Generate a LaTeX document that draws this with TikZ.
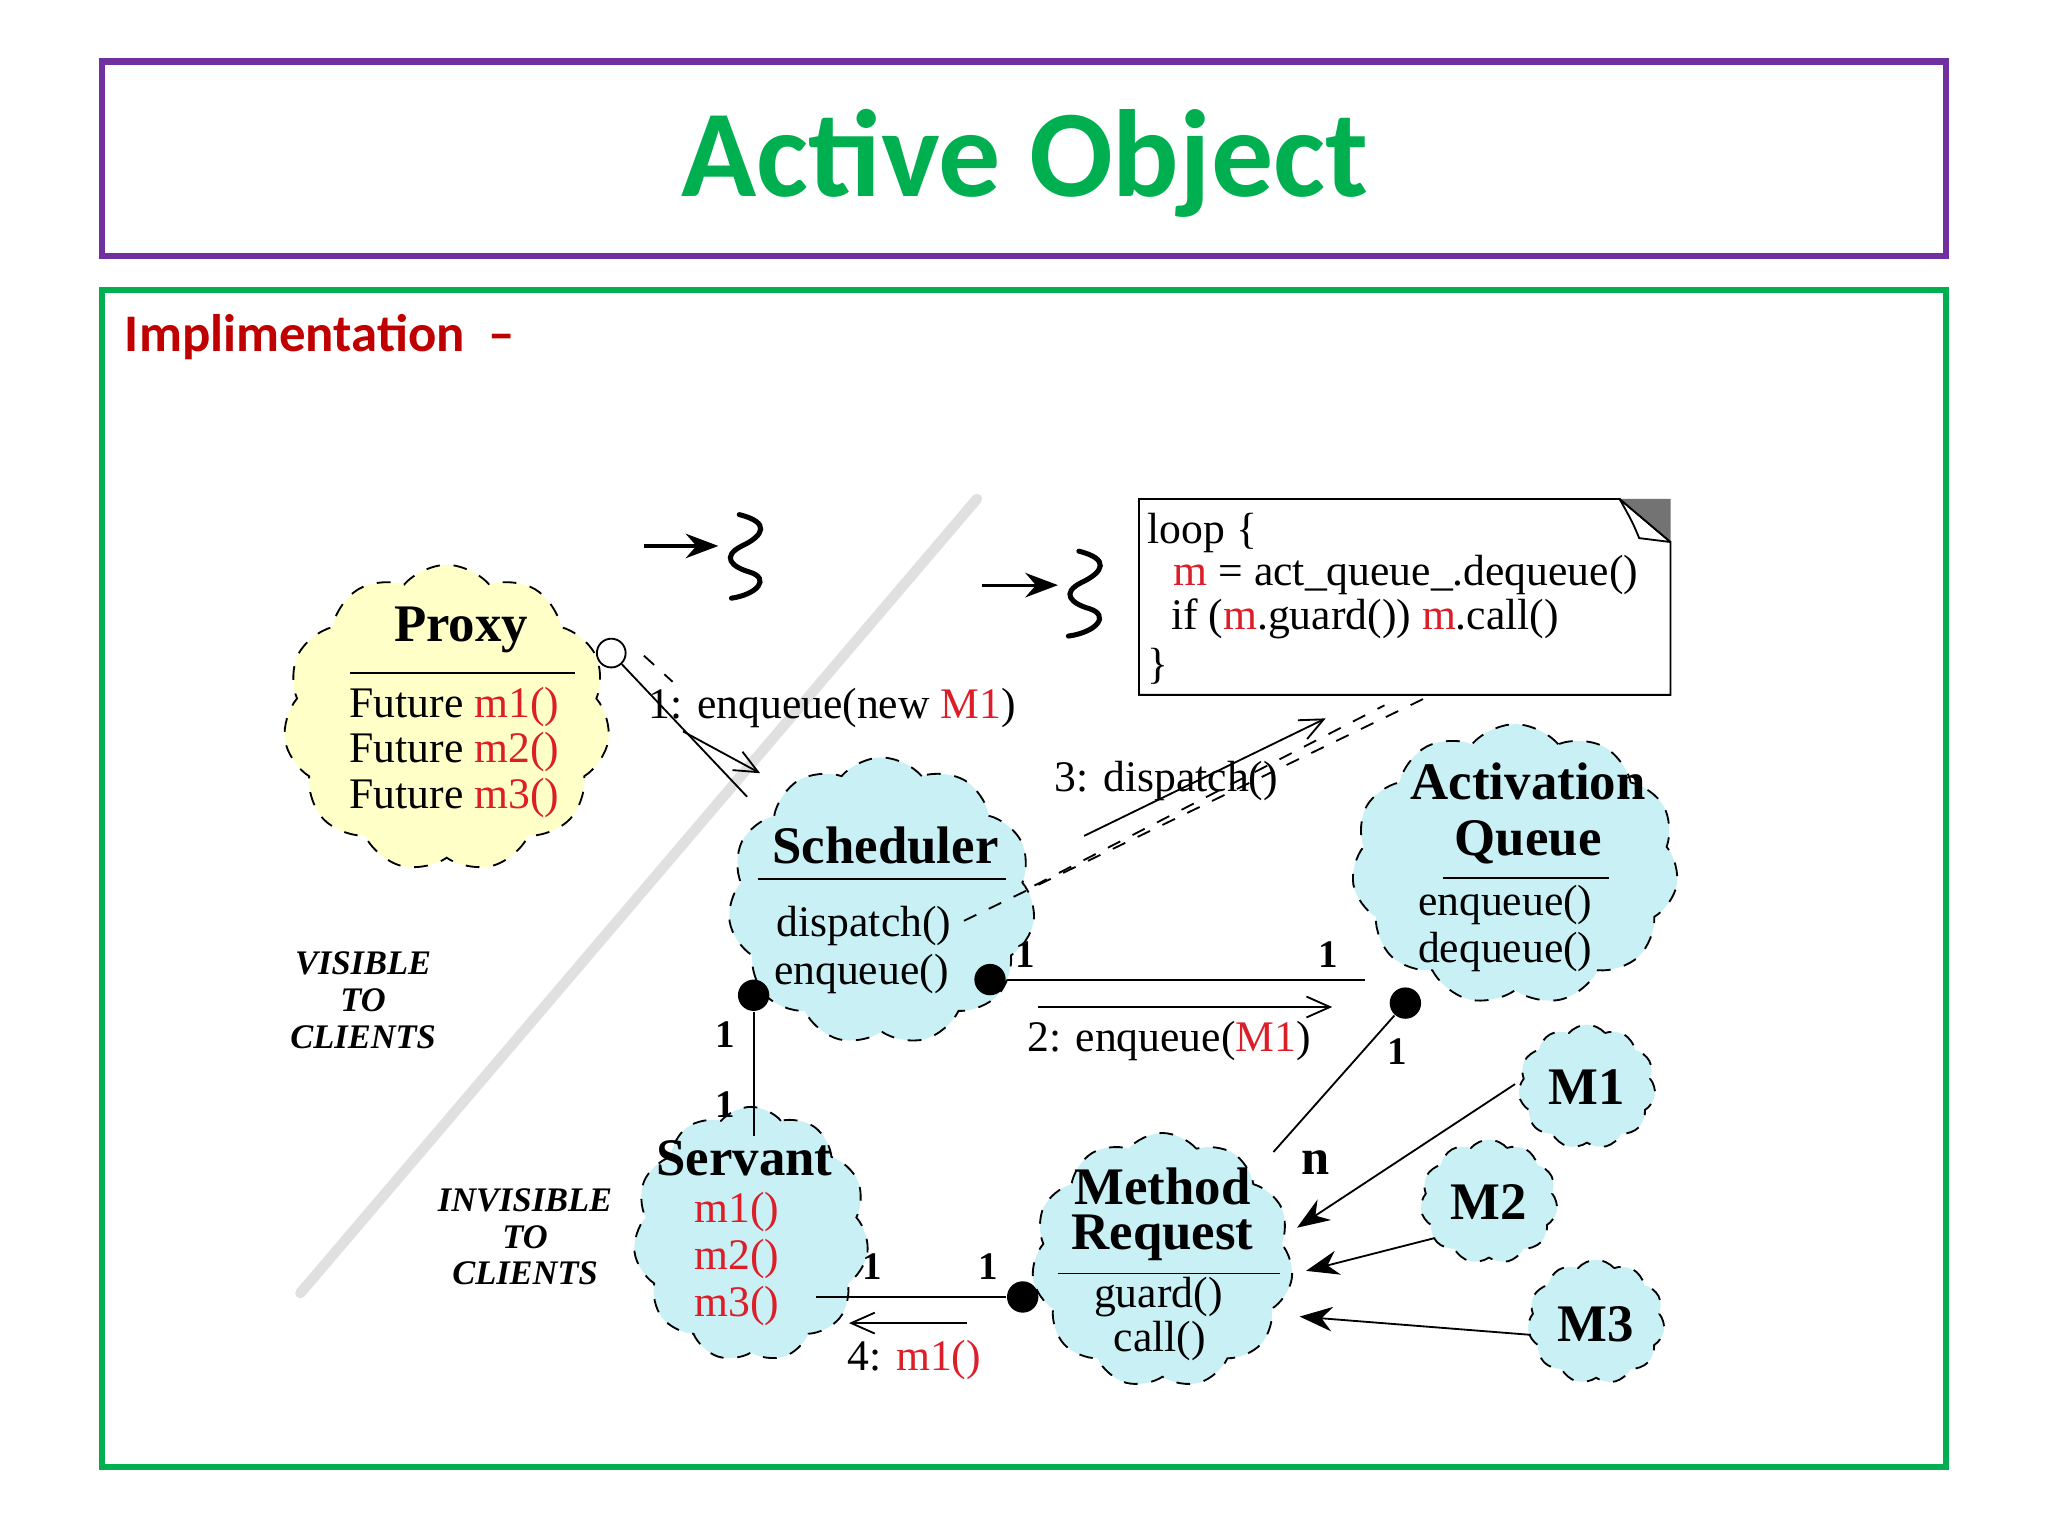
\documentclass[tikz,border=0pt]{standalone}
\usepackage{fontspec}
\setmainfont{Liberation Serif}
\newfontfamily\carl{Carlito}
\usetikzlibrary{shapes.symbols,arrows.meta}
\definecolor{ttl}{RGB}{0,176,80}
\definecolor{purp}{RGB}{112,48,160}
\definecolor{dred}{RGB}{192,0,0}
\definecolor{cyanf}{RGB}{200,240,245}
\definecolor{yelf}{RGB}{255,255,200}
\definecolor{rd}{RGB}{220,30,40}
\tikzset{
 cl/.style={cloud, cloud puffs=11, cloud puff arc=100, cloud ignores aspect, draw, dashed, fill=cyanf, inner sep=0pt},
 tx/.style={font=\fontsize{9.5pt}{11pt}\selectfont, inner sep=0pt, anchor=west},
 hd/.style={font=\fontsize{11.5pt}{13pt}\selectfont\bfseries, inner sep=0pt},
 lb/.style={font=\fontsize{8.5pt}{10pt}\selectfont\bfseries, inner sep=0pt},
 vis/.style={font=\fontsize{7.5pt}{9pt}\selectfont\bfseries\itshape, inner sep=0pt, align=center},
 dot/.style={circle, fill=black, minimum size=0.24cm, inner sep=0pt},
 arr/.style={-{Stealth[length=0.25cm]}},
 oarr/.style={-{Straight Barb[length=0.18cm,width=0.16cm]}},
}
\begin{document}
\begin{tikzpicture}[x=0.01cm,y=-0.01cm]
\useasboundingbox (0,0) rectangle (1568,1176);
\draw[purp, line width=0.05cm] (78,47) rectangle (1490,196);
\node[font=\carl\bfseries\fontsize{27pt}{32pt}\selectfont, text=ttl] (title) at (785,125) {Active Object};
\draw[ttl, line width=0.05cm] (78,222) rectangle (1490,1123);
\node[font=\carl\bfseries\fontsize{11.5pt}{14pt}\selectfont, text=dred, anchor=west, inner sep=0pt] (impl) at (95,258) {Implimentation \ –};
% diagonal
\draw[black!12, line width=0.08cm, line cap=round] (748,382) -- (230,990);
% clouds
\node[cl, fill=yelf, minimum width=2.5cm, minimum height=2.35cm] (proxy) at (342,550) {};
\node[cl, minimum width=2.35cm, minimum height=2.2cm] (sched) at (675,690) {};
\node[cl, minimum width=2.5cm, minimum height=2.15cm] (aq) at (1160,662) {};
\node[cl, minimum width=1.8cm, minimum height=1.95cm] (serv) at (575,945) {};
\node[cl, minimum width=2.0cm, minimum height=1.95cm] (mr) at (890,965) {};
\node[cl, minimum width=1.05cm, minimum height=0.95cm] (m1c) at (1215,832) {};
\node[cl, minimum width=1.05cm, minimum height=0.95cm] (m2c) at (1140,920) {};
\node[cl, minimum width=1.05cm, minimum height=0.95cm] (m3c) at (1222,1012) {};
% proxy text
\node[hd] (ptit) at (353,482) {Proxy};
\draw (268,515) -- (440,515);
\node[tx] (f1) at (267,541) {Future \textcolor{rd}{m1()}};
\node[tx] (f2) at (267,576) {Future \textcolor{rd}{m2()}};
\node[tx] (f3) at (267,611) {Future \textcolor{rd}{m3()}};
% scheduler
\node[hd] (stit) at (678,647) {Scheduler};
\draw (580,673) -- (770,673);
\node[tx] (sd) at (594,709) {dispatch()};
\node[tx] (se) at (592,746) {enqueue()};
% AQ
\node[hd] (aq1) at (1170,598) {Activation};
\node[hd] (aq2) at (1170,645) {Queue};
\draw (1105,672) -- (1232,672);
\node[tx] (aqe) at (1085,693) {enqueue()};
\node[tx] (aqd) at (1085,729) {dequeue()};
% servant
\node[hd] (svt) at (570,887) {Servant};
\node[tx, text=rd] (s1) at (531,928) {m1()};
\node[tx, text=rd] (s2) at (531,964) {m2()};
\node[tx, text=rd] (s3) at (531,1000) {m3()};
% MR
\node[hd] (mr1) at (890,908) {Method};
\node[hd] (mr2) at (890,948) {Request};
\draw (810,975) -- (980,975);
\node[tx] (mg) at (837,993) {guard()};
\node[tx] (mc) at (852,1027) {call()};
\node[hd] (m1t) at (1215,832) {M1};
\node[hd] (m2t) at (1140,920) {M2};
\node[hd] (m3t) at (1222,1014) {M3};
% dots
\node[dot] (d1) at (577,762) {};
\node[dot] (d2) at (758,750) {};
\node[dot] (d3) at (1076,768) {};
\node[dot] (d4) at (783,993) {};
\coordinate (aqL) at (1045,750);
\draw (d2) -- (aqL);
\node[lb] at (785,731) {1}; \node[lb] at (1017,731) {1};
\coordinate (a2s) at (795,771); \coordinate (a2e) at (1020,771);
\draw[oarr] (a2s) -- (a2e);
\node[tx, anchor=center] (l2) at (895,797) {2: enqueue(\textcolor{rd}{M1})};
\coordinate (svtop) at (577,870);
\draw (d1) -- (svtop);
\node[lb] at (555,792) {1}; \node[lb] at (555,846) {1};
\coordinate (mrtop) at (975,882);
\draw (d3) -- (mrtop);
\node[lb] at (1070,805) {1}; \node[lb, font=\fontsize{11pt}{12pt}\selectfont\bfseries] at (1007,890) {n};
\coordinate (svr) at (625,993);
\draw (d4) -- (svr);
\node[lb] at (668,970) {1}; \node[lb] at (757,970) {1};
\coordinate (a4s) at (740,1013); \coordinate (a4e) at (650,1013);
\draw[oarr] (a4s) -- (a4e);
\node[tx, anchor=center] (l4) at (700,1041) {4: \textcolor{rd}{m1()}};
% M arrows
\coordinate (m1s) at (1160,830); \coordinate (m1e) at (993,940);
\coordinate (m2s) at (1098,948); \coordinate (m2e) at (1000,973);
\coordinate (m3s) at (1172,1022); \coordinate (m3e) at (995,1008);
\draw[arr] (m1s) -- (m1e);
\draw[arr] (m2s) -- (m2e);
\draw[arr] (m3s) -- (m3e);
% proxy to scheduler
\node[circle, draw, fill=white, minimum size=0.22cm, inner sep=0pt] (pc) at (468,500) {};
\coordinate (sctop) at (572,610);
\draw (pc) -- (sctop);
\coordinate (pd1) at (493,502); \coordinate (pd2) at (515,522);
\draw[dashed] (pd1) -- (pd2);
\coordinate (e1s) at (523,560); \coordinate (e1e) at (582,592);
\draw[oarr] (e1s) -- (e1e);
\node[tx] (l1) at (496,542) {1: enqueue(new \textcolor{rd}{M1})};
% dispatch
\coordinate (ds1) at (738,705); \coordinate (de1) at (1090,535);
\coordinate (ds2) at (792,678); \coordinate (de2) at (1060,540);
\draw[dashed] (ds1) -- (de1);
\draw[dashed] (ds2) -- (de2);
\coordinate (a3s) at (830,640); \coordinate (a3e) at (1015,550);
\draw[oarr] (a3s) -- (a3e);
\node[tx] (l3) at (807,598) {3: dispatch()};
% note
\draw[fill=white] (872,382) -- (1240,382) -- (1279,415) -- (1279,532) -- (872,532) -- cycle;
\fill[black!55] (1240,382) -- (1279,382) -- (1279,415) -- cycle;
\draw (1240,382) -- (1279,415) (1240,382) .. controls (1250,400) .. (1255,412) -- (1279,415);
\node[tx] (n1) at (878,408) {loop \{};
\node[tx] (n2) at (898,440) {\textcolor{rd}{m} = act\_queue\_.dequeue()};
\node[tx] (n3) at (896,474) {if (\textcolor{rd}{m}.guard()) \textcolor{rd}{m}.call()};
\node[tx] (n4) at (878,510) {\}};
% squiggles
\coordinate (q1s) at (493,418); \coordinate (q1e) at (550,418);
\draw[arr, line width=0.7pt] (q1s) -- (q1e);
\draw[line width=1.1pt, line cap=round] (566,394) .. controls (590,400) and (585,410) .. (568,418) .. controls (552,426) and (560,434) .. (574,438) .. controls (590,443) and (580,455) .. (560,458);
\coordinate (q2s) at (752,448); \coordinate (q2e) at (810,448);
\draw[arr, line width=0.7pt] (q2s) -- (q2e);
\draw[line width=1.1pt, line cap=round] (826,422) .. controls (850,428) and (845,438) .. (828,446) .. controls (812,454) and (820,462) .. (834,466) .. controls (850,471) and (840,484) .. (818,487);
% visibility
\node[vis] (vis) at (278,766) {VISIBLE\\[-1pt]TO\\[-1pt]CLIENTS};
\node[vis] (invis) at (402,947) {INVISIBLE\\[-1pt]TO\\[-1pt]CLIENTS};
\end{tikzpicture}
\end{document}
